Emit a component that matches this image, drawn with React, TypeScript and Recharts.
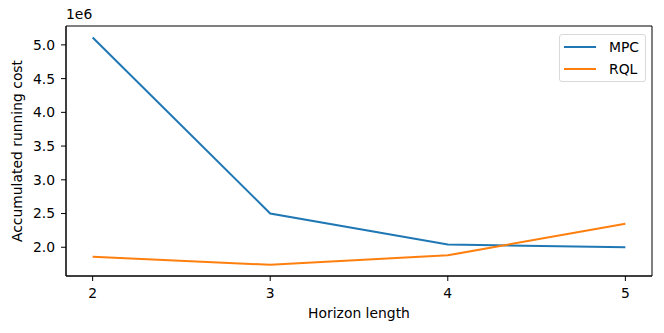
import { LineChart, Line, XAxis, YAxis, ReferenceArea } from 'recharts';

const horizons = [2, 3, 4, 5];
const mpcCost = [5110000, 2500000, 2040000, 2000000];
const rqlCost = [1860000, 1740000, 1880000, 2350000];
const xTicks = [2, 3, 4, 5];
const yTicks = [2000000, 2500000, 3000000, 3500000, 4000000, 4500000, 5000000];

const data = horizons.map((h, i) => ({ h, MPC: mpcCost[i], RQL: rqlCost[i] }));

const xDomain: [number, number] = [1.85, 5.15];
const yDomain: [number, number] = [1574000, 5280000];

const FONT = '"DejaVu Sans", sans-serif';
const tickStyle = { fontSize: 13.9, fill: '#000', fontFamily: FONT };

function LegendBox() {
  const items = [
    { name: 'MPC', color: '#1f77b4' },
    { name: 'RQL', color: '#ff7f0e' },
  ];
  return (
    <div
      style={{
        position: 'absolute',
        left: 559,
        top: 34,
        width: 87,
        height: 48,
        border: '1px solid #d9d9d9',
        borderRadius: 3,
        background: 'rgba(255,255,255,0.8)',
        boxSizing: 'border-box',
        fontFamily: FONT,
        fontSize: 13.9,
        paddingTop: 1,
      }}
    >
      {items.map((it) => (
        <div key={it.name} style={{ display: 'flex', alignItems: 'center', height: 22 }}>
          <span style={{ display: 'inline-block', width: 32, height: 2, background: it.color, marginLeft: 4 }} />
          <span style={{ marginLeft: 13, color: '#000' }}>{it.name}</span>
        </div>
      ))}
    </div>
  );
}

export default function App() {
  return (
    <div style={{ position: 'relative', width: 664, height: 333, background: '#fff' }}>
      <style>{'body{margin:0}'}</style>
      <LineChart width={664} height={333} data={data} margin={{ top: 26, right: 12, bottom: 0, left: 0 }}>
        <XAxis
          dataKey="h"
          type="number"
          domain={xDomain}
          ticks={xTicks}
          allowDataOverflow
          height={57}
          tickSize={5}
          tickMargin={7}
          tick={tickStyle}
          tickLine={{ stroke: '#000' }}
          axisLine={{ stroke: '#000' }}
          label={{ value: 'Horizon length', position: 'insideBottom', offset: 15, style: { ...tickStyle, textAnchor: 'middle' } }}
        />
        <YAxis
          type="number"
          domain={yDomain}
          ticks={yTicks}
          allowDataOverflow
          width={66}
          tickSize={5}
          tickMargin={6}
          tick={tickStyle}
          tickFormatter={(v: number) => (v / 1e6).toFixed(1)}
          tickLine={{ stroke: '#000' }}
          axisLine={{ stroke: '#000' }}
          label={{ value: 'Accumulated running cost', angle: -90, position: 'insideLeft', offset: 17, style: { ...tickStyle, textAnchor: 'middle' } }}
        />
        <ReferenceArea x1={xDomain[0]} x2={xDomain[1]} y1={yDomain[0]} y2={yDomain[1]} fill="none" stroke="#000" strokeWidth={1} ifOverflow="visible" />
        <Line type="linear" dataKey="MPC" stroke="#1f77b4" strokeWidth={2} dot={false} isAnimationActive={false} />
        <Line type="linear" dataKey="RQL" stroke="#ff7f0e" strokeWidth={2} dot={false} isAnimationActive={false} />
      </LineChart>
      <LegendBox />
      <div style={{ position: 'absolute', left: 66, top: 6, fontFamily: FONT, fontSize: 13.9, color: '#000' }}>1e6</div>
    </div>
  );
}
